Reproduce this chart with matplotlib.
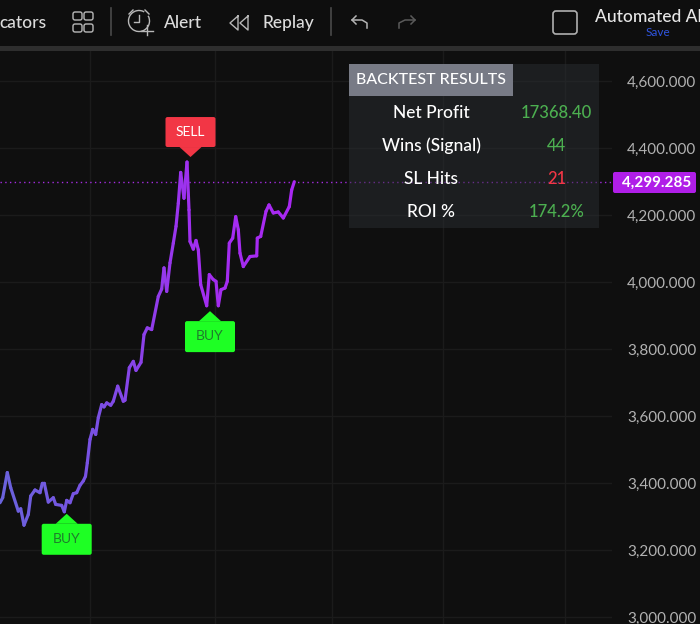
import numpy as np
import matplotlib
matplotlib.use("Agg")
import matplotlib.pyplot as plt
from matplotlib.collections import LineCollection
from matplotlib.colors import LinearSegmentedColormap
from matplotlib.patches import FancyBboxPatch, Polygon, Rectangle, Arc
from matplotlib.transforms import IdentityTransform

bar_pos = [0, 2.7, 7.3, 10.7, 18.3, 20.7, 24, 28.3, 30.7, 35, 40, 42.3, 44.3, 48.3, 53.3, 55.7, 61.7, 64.3,
           66.7, 70, 73.3, 76.7, 80, 83.3, 85.5, 87.3, 90, 92.7, 95.7, 98.3, 101.7, 104, 106.7, 110.7, 113.3,
           117.7, 123.3, 125, 129.3, 133.3, 136, 141, 144, 147.3, 151.7, 158.3, 161.7, 164, 166.7, 170, 173.3,
           176, 178.3, 180.7, 184, 187, 189, 190, 193.3, 196, 198.3, 200.7, 206.7, 209.3, 213.3, 216, 218.3,
           221, 225, 227.3, 229.3, 232.7, 235.7, 238.3, 240, 243.3, 250, 256.7, 257.3, 260.7, 266, 269, 273.3,
           278.3, 283.3, 289.3, 291.7, 294.3]
close = [3341, 3356, 3431, 3386, 3316, 3323, 3274, 3306, 3361, 3379, 3371, 3399, 3399, 3343, 3356, 3336, 3333, 3314,
         3348, 3341, 3368, 3371, 3393, 3406, 3420, 3460, 3530, 3560, 3545, 3595, 3634, 3627, 3639, 3632, 3644,
         3689, 3644, 3647, 3744, 3763, 3736, 3760, 3843, 3863, 3858, 3957, 3979, 4042, 3972, 4057, 4116,
         4166, 4235, 4327, 4250, 4358, 4215, 4121, 4098, 4124, 4096, 3992, 3929, 4022, 4007, 4002, 3929,
         3977, 3982, 4002, 4116, 4131, 4195, 4156, 4086, 4046, 4076, 4078, 4131, 4136, 4211, 4230, 4206,
         4209, 4191, 4225, 4275, 4299.285]
last_price = 4299.285
price_ticks = [3000, 3200, 3400, 3600, 3800, 4000, 4200, 4400, 4600]
time_lines = [90, 215, 332, 443, 565]
signal_text = ["BUY", "BUY", "SELL"]
signal_x = [66.7, 210, 190.5]
signal_price = [3308, 3913, 4373]
result_labels = ["Net Profit", "Wins (Signal)", "SL Hits", "ROI %"]
result_values = ["17368.40", "44", "21", "174.2%"]

FONT = ["Lato", "DejaVu Sans"]
plt.rcParams["font.family"] = FONT
W, H = 700, 624
BG = "#0f0f0f"
fig = plt.figure(figsize=(7, 6.24), dpi=100, facecolor=BG)

ax = fig.add_axes([0, 0, 612 / W, (H - 50) / H], facecolor=BG)
ax.set_xlim(0, 612)
ax.set_ylim(2979, 4692.5)
for s in ax.spines.values():
    s.set_visible(False)
ax.set_xticks(time_lines)
ax.set_xticklabels([])
ax.set_yticks(price_ticks)
ax.set_yticklabels([f"{p:,.3f}" for p in price_ticks], color="#b2b2b2", fontsize=11, ha="left")
ax.yaxis.tick_right()
ax.tick_params(axis="both", length=0)
ax.tick_params(axis="y", pad=11)
ax.grid(True, color="#1b1b1b", lw=1)
ax.set_axisbelow(True)

ax.axhline(last_price, color="#a42ce0", lw=1, ls=(0, (1, 2.4)), zorder=2)

x = np.array(bar_pos, dtype=float)
y = np.array(close, dtype=float)
pts = np.column_stack([x, y]).reshape(-1, 1, 2)
segs = np.concatenate([pts[:-1], pts[1:]], axis=1)
cmap = LinearSegmentedColormap.from_list("g", ["#6a63dc", "#7a50e4", "#a22ef0", "#a928f2"])
lc = LineCollection(segs, cmap=cmap, linewidths=2.3, capstyle="round", joinstyle="round", zorder=3)
lc.set_array((x[:-1] + x[1:]) / 2)
lc.set_clim(0, 295)
ax.add_collection(lc)

for txt, sx, sp in zip(signal_text, signal_x, signal_price):
    dx, dy = ax.transData.transform((sx, sp))
    sell = txt == "SELL"
    col = "#f23645" if sell else "#1eff24"
    tc = "#ffffff" if sell else "#1f7d2c"
    hw = 25
    if sell:
        y0, y1, base = dy + 10, dy + 40, dy + 10
    else:
        y0, y1, base = dy - 41, dy - 10, dy - 10
    ax.add_patch(FancyBboxPatch((dx - hw + 2, y0 + 2), 2 * hw - 4, y1 - y0 - 4,
                                boxstyle="round,pad=2,rounding_size=2", fc=col, ec="none",
                                transform=IdentityTransform(), zorder=5, clip_on=False))
    ax.add_patch(Polygon([(dx - 11, base), (dx + 11, base), (dx, dy)], closed=True, fc=col, ec="none",
                         transform=IdentityTransform(), zorder=5, clip_on=False))
    ax.annotate(txt, xy=(sx, sp), xytext=(0, 25 if sell else -25), textcoords="offset pixels",
                ha="center", va="center", color=tc, fontsize=10, zorder=6)

ov = fig.add_axes([0, 0, 1, 1], facecolor="none", zorder=10)
ov.set_xlim(0, W)
ov.set_ylim(H, 0)
ov.axis("off")

ov.add_patch(Rectangle((0, 0), W, 46, fc="#0e0e0e", ec="none"))
ov.add_patch(Rectangle((0, 46), W, 4.5, fc="#2e2e2e", ec="none"))

TXT = "#dcdcdc"
ICON = "#b8b8b8"
WT = "medium"
ov.text(46, 23, "cators", ha="right", va="center", color=TXT, fontsize=12.5, fontweight=WT)
ov.text(164, 23, "Alert", ha="left", va="center", color=TXT, fontsize=12.5, fontweight=WT)
ov.text(262, 23, "Replay", ha="left", va="center", color=TXT, fontsize=12.5, fontweight=WT)
ov.text(595, 16.5, "Automated Al", ha="left", va="center", color="#e6e6e6", fontsize=12.5, fontweight=WT, clip_on=True)
ov.text(657.5, 32, "Save", ha="center", va="center", color="#2f55e0", fontsize=8.5)

for bx, by in [(73, 12), (84, 12), (73, 24), (84, 24)]:
    ov.add_patch(FancyBboxPatch((bx + 2, by + 2), 5, 4, boxstyle="round,pad=2,rounding_size=2",
                                fc="none", ec=ICON, lw=1))
for sx in (111, 331):
    ov.plot([sx, sx], [8, 35], color="#4a4a4a", lw=1.2)

ov.add_patch(Arc((139, 21), 21, 21, theta1=-30, theta2=300, ec=ICON, lw=1))
ov.plot([139, 139, 134], [15, 22, 22], color=ICON, lw=1)
ov.plot([129, 133], [14, 10], color=ICON, lw=1)
ov.plot([149, 145], [14, 10], color=ICON, lw=1)
ov.plot([141, 153], [30.5, 30.5], color=ICON, lw=1)
ov.plot([147, 147], [25, 35], color=ICON, lw=1)

for ox in (230, 240):
    ov.plot([ox + 8, ox, ox + 8, ox + 8], [16, 23, 30, 16], color=ICON, lw=1)

ov.plot([356, 352, 356], [16, 20, 24], color="#b4b4b4", lw=1.1)
ov.plot([352, 362, 367, 367], [20, 20, 23, 28], color="#b4b4b4", lw=1.1)
ov.plot([411, 415, 411], [16, 20, 24], color="#5a5a5a", lw=1.1)
ov.plot([415, 405, 399, 399], [20, 20, 23, 28], color="#5a5a5a", lw=1.1)

ov.add_patch(FancyBboxPatch((556, 14), 18, 17, boxstyle="round,pad=3,rounding_size=3",
                            fc="none", ec="#b0b0b0", lw=1.2))

ov.add_patch(Rectangle((349, 64), 250, 164, fc="#2a2e32", ec="none", alpha=0.5))
ov.add_patch(Rectangle((349, 64), 164, 32, fc="#787b86", ec="none"))
ov.text(431, 80, "BACKTEST RESULTS", ha="center", va="center", color="#ffffff", fontsize=11.5, fontweight=WT)
rows_y = [113, 146, 179, 212]
value_colors = ["#4caf50", "#4caf50", "#f23645", "#4caf50"]
for ry, lab, val, vc in zip(rows_y, result_labels, result_values, value_colors):
    ov.text(431, ry, lab, ha="center", va="center", color="#ffffff", fontsize=12.5, fontweight=WT)
    ov.text(556.5, ry, val, ha="center", va="center", color=vc, fontsize=12, fontweight=WT)

ov.add_patch(FancyBboxPatch((615, 174), 79, 17, boxstyle="round,pad=2,rounding_size=2",
                            fc="#b01ee8", ec="none"))
ov.text(657, 182.5, f"{last_price:,.3f}", ha="center", va="center", color="#ffffff", fontsize=11, fontweight="bold")

fig.savefig("out.png", dpi=100, facecolor=BG)
